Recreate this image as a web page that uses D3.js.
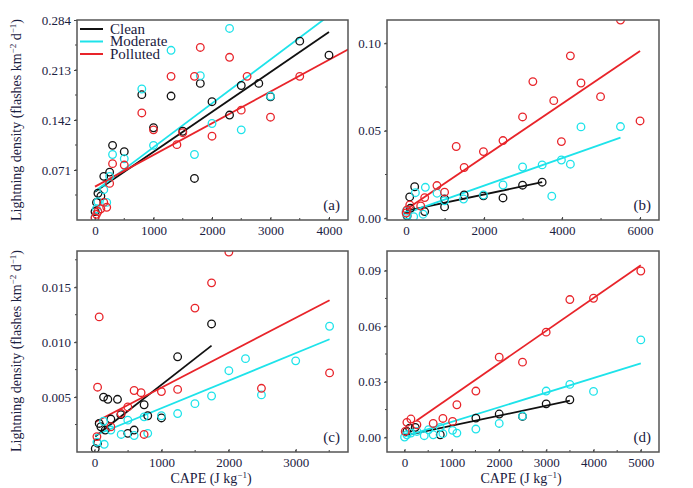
<!DOCTYPE html>
<html>
<head>
<meta charset="utf-8">
<script src="https://cdn.jsdelivr.net/npm/d3@7"></script>
<style>
body { margin: 0; background: #fff; }
text { font-family: "Liberation Serif", "Times New Roman", serif; fill: #1a2040; }
</style>
</head>
<body>
<svg id="chart" width="693" height="488"></svg>
<script>
// CAPE (J kg-1), lightning density (flashes km-2 d-1)
var cleanA = [[0,0.012],[25,0.025],[50,0.038],[100,0.034],[150,0.062],[250,0.068],[300,0.106],[500,0.097],[800,0.178],[1000,0.131],[1300,0.176],[1500,0.126],[1700,0.059],[1800,0.194],[2000,0.168],[2300,0.149],[2500,0.191],[2800,0.194],[3000,0.175],[3500,0.254],[4000,0.234]];
var moderateA = [[0,0.004],[25,0.016],[50,0.026],[150,0.043],[200,0.025],[250,0.062],[300,0.093],[500,0.087],[800,0.186],[1000,0.106],[1300,0.241],[1700,0.093],[1800,0.205],[2000,0.137],[2300,0.272],[2500,0.128],[3000,0.176]];
var pollutedA = [[0,0.003],[25,0.008],[50,0.012],[100,0.016],[150,0.025],[200,0.018],[250,0.052],[300,0.080],[500,0.078],[800,0.152],[1000,0.128],[1300,0.204],[1400,0.107],[1500,0.124],[1700,0.204],[1800,0.245],[2000,0.119],[2300,0.231],[2500,0.156],[2600,0.204],[3000,0.146],[3500,0.204]];

var cleanB = [[25,0.0013],[92,0.0122],[110,0.0057],[220,0.018],[476,0.0038],[987,0.0065],[987,0.011],[1489,0.0133],[1983,0.0128],[2485,0.0116],[2987,0.0189],[3489,0.0206]];
var moderateB = [[0,0.004],[25,0.0019],[194,0.0009],[238,0.0146],[435,0.0023],[494,0.0177],[793,0.0143],[987,0.010],[1473,0.011],[1985,0.0133],[2485,0.019],[2987,0.0293],[3489,0.0305],[3736,0.0126],[3983,0.0333],[4213,0.0309],[4485,0.0522],[5498,0.0524]];
var pollutedB = [[0,0.003],[25,0.0048],[94,0.0076],[374,0.007],[477,0.0118],[791,0.0187],[987,0.0149],[1285,0.041],[1489,0.029],[1983,0.0381],[2485,0.0444],[2987,0.0579],[3251,0.0781],[3787,0.0672],[3983,0.0438],[4213,0.0928],[4485,0.0773],[4987,0.0695],[5498,0.1133],[6000,0.0556]];

var cleanC = [[10,0.0003],[45,0.0008],[69,0.0026],[94,0.0023],[134,0.005],[159,0.002],[198,0.0048],[243,0.003],[342,0.0048],[392,0.0034],[496,0.0017],[590,0.002],[739,0.0043],[793,0.0033],[997,0.0031],[1239,0.00867],[1745,0.01166]];
var moderateC = [[35,0.0009],[134,0.0028],[144,0.0007],[243,0.002],[397,0.0016],[496,0.0029],[590,0.0015],[739,0.0032],[793,0.0017],[997,0.0033],[1239,0.0035],[1497,0.0044],[1745,0.0051],[2003,0.0074],[2251,0.0085],[2489,0.0052],[3000,0.0083],[3505,0.01145]];
var pollutedC = [[35,0.0014],[45,0.0059],[69,0.0123],[243,0.0023],[397,0.0035],[496,0.0041],[590,0.0056],[694,0.0054],[739,0.0016],[997,0.0055],[1239,0.0057],[1497,0.0131],[1745,0.0154],[2003,0.0182],[2489,0.0058],[3505,0.0072]];

var cleanD = [[49,0.0032],[106,0.005],[226,0.0054],[755,0.0014],[1509,0.0104],[2003,0.0126],[2496,0.0113],[2997,0.0181],[3498,0.0203]];
var moderateD = [[0,0.0002],[49,0.0014],[134,0.0023],[261,0.0032],[416,0.0009],[508,0.0041],[606,0.0014],[755,0.0054],[811,0.002],[1016,0.0038],[1107,0.0023],[1509,0.0045],[2003,0.0075],[2496,0.0115],[2997,0.025],[3498,0.0286],[3999,0.0248],[5000,0.0526]];
var pollutedD = [[14,0.0032],[49,0.0081],[134,0.0099],[261,0.0068],[606,0.0075],[811,0.0102],[1016,0.0086],[1107,0.0176],[1509,0.025],[2003,0.0433],[2496,0.0406],[2997,0.0568],[3498,0.0744],[3999,0.0751],[5000,0.0898]];

// fitted lines: [start CAPE, end CAPE, intercept, slope] for clean, moderate, polluted
var fitsA = [[0, 4000, 0.040, 5.67e-5], [0, 4000, 0.041, 6.23e-5], [0, 4400, 0.0474, 4.5e-5]];
var fitsB = [[0, 3489, 0.0042, 4.7e-6], [0, 5498, 0.0029, 7.85e-6], [0, 6000, 0.005, 1.51e-5]];
var fitsC = [[10, 1745, 0.00136, 4.77e-6], [10, 3505, 0.0015, 2.5e-6], [10, 3505, 0.0027, 3.17e-6]];
var fitsD = [[0, 3498, 0.0009, 5.4e-6], [0, 5000, 0.0005, 7.88e-6], [250, 5000, 0.0046, 1.766e-5]];

var capeTicksA = [0, 1000, 2000, 3000, 4000];
var capeTicksB = [0, 2000, 4000, 6000];
var capeTicksC = [0, 1000, 2000, 3000];
var capeTicksD = [0, 1000, 2000, 3000, 4000, 5000];
var densityTicksA = [0.071, 0.142, 0.213, 0.284];
var densityTicksB = [0, 0.05, 0.10];
var densityTicksC = [0.005, 0.010, 0.015];
var densityTicksD = [0, 0.03, 0.06, 0.09];

var groupNames = ["Clean", "Moderate", "Polluted"];
var colors = ["#111111", "#1ee3ea", "#e8242a"];

var svg = d3.select("#chart");

var panels = [
    {id: "a", box: [77, 20, 348, 220], xd: [-308, 4325], yd: [0, 0.284], xt: capeTicksA, xm: 500, yt: densityTicksA, fmt: ".3f",
        data: [cleanA, moderateA, pollutedA], fits: fitsA},
    {id: "b", box: [387, 20, 659, 220], xd: [-490, 6486], yd: [-0.001, 0.1133], xt: capeTicksB, xm: 1000, yt: densityTicksB, fmt: ".2f",
        data: [cleanB, moderateB, pollutedB], fits: fitsB},
    {id: "c", box: [77, 251, 348, 452], xd: [-262, 3780], yd: [0, 0.0183], xt: capeTicksC, xm: 500, yt: densityTicksC, fmt: ".3f",
        data: [cleanC, moderateC, pollutedC], fits: fitsC},
    {id: "d", box: [387, 251, 659, 452], xd: [-372, 5385], yd: [-0.0079, 0.1006], xt: capeTicksD, xm: 500, yt: densityTicksD, fmt: ".2f",
        data: [cleanD, moderateD, pollutedD], fits: fitsD}
];

panels.forEach(drawPanel);

function drawPanel(p) {
    var x = d3.scaleLinear().domain(p.xd).range([p.box[0], p.box[2]]);
    var y = d3.scaleLinear().domain(p.yd).range([p.box[3], p.box[1]]);
    var g = svg.append("g");

    g.append("clipPath").attr("id", "clip-" + p.id)
        .append("rect")
        .attr("x", p.box[0]).attr("y", p.box[1])
        .attr("width", p.box[2] - p.box[0]).attr("height", p.box[3] - p.box[1]);

    // minor ticks
    var yStep = p.yt[1] - p.yt[0];
    var yMinor = d3.range(p.yt[0] - yStep / 2, p.yd[1], yStep / 2)
        .filter(function(v) {return v >= p.yd[0] && v <= p.yd[1];});
    g.selectAll(".ymin").data(yMinor).enter().append("line")
        .attr("x1", p.box[0] - 2).attr("x2", p.box[0])
        .attr("y1", function(v) {return y(v);}).attr("y2", function(v) {return y(v);})
        .attr("stroke", "#444").attr("stroke-width", 1);
    var xMinor = d3.range(0, p.xd[1], p.xm);
    g.selectAll(".xmin").data(xMinor).enter().append("line")
        .attr("x1", function(v) {return x(v);}).attr("x2", function(v) {return x(v);})
        .attr("y1", p.box[3] - 2).attr("y2", p.box[3])
        .attr("stroke", "#444").attr("stroke-width", 1);

    var yAxis = g.append("g")
        .attr("transform", "translate(" + p.box[0] + ",0)")
        .call(d3.axisLeft(y).tickValues(p.yt).tickFormat(d3.format(p.fmt)).tickSize(3).tickPadding(3));
    var xAxis = g.append("g")
        .attr("transform", "translate(0," + p.box[3] + ")")
        .call(d3.axisBottom(x).tickValues(p.xt).tickFormat(d3.format("d")).tickSize(-3).tickPadding(6));
    [xAxis, yAxis].forEach(function(ax) {
        ax.attr("font-family", null).attr("font-size", null);
        ax.select(".domain").remove();
        ax.selectAll("line").attr("stroke", "#444");
        ax.selectAll("text").attr("fill", "#1a2040").style("font-size", "13px");
    });

    var plot = g.append("g").attr("clip-path", "url(#clip-" + p.id + ")");

    p.fits.forEach(function(f, i) {
        plot.append("line")
            .attr("x1", x(f[0])).attr("y1", y(f[2] + f[3] * f[0]))
            .attr("x2", x(f[1])).attr("y2", y(f[2] + f[3] * f[1]))
            .attr("stroke", colors[i]).attr("stroke-width", 1.8);
    });

    p.data.forEach(function(series, i) {
        plot.selectAll(".pt" + i).data(series).enter().append("circle")
            .attr("cx", function(d) {return x(d[0]);})
            .attr("cy", function(d) {return y(d[1]);})
            .attr("r", 3.8)
            .attr("fill", "none")
            .attr("stroke", colors[i])
            .attr("stroke-width", 1.3);
    });

    g.append("rect")
        .attr("x", p.box[0]).attr("y", p.box[1])
        .attr("width", p.box[2] - p.box[0]).attr("height", p.box[3] - p.box[1])
        .attr("fill", "none").attr("stroke", "#555").attr("stroke-width", 1.5);

    g.append("text")
        .attr("x", p.box[2] - 8).attr("y", p.box[3] - 10)
        .attr("text-anchor", "end")
        .style("font-size", "15px")
        .text("(" + p.id + ")");
}

// legend in panel (a)
var legend = svg.append("g");
groupNames.forEach(function(name, i) {
    var ly = 29 + i * 12.5;
    legend.append("line")
        .attr("x1", 80).attr("x2", 103).attr("y1", ly).attr("y2", ly)
        .attr("stroke", colors[i]).attr("stroke-width", 2);
    legend.append("text")
        .attr("x", 110).attr("y", ly + 4.5)
        .style("font-size", "15px")
        .text(name);
});

// axis titles
function yTitle(cy) {
    var t = svg.append("text")
        .attr("transform", "translate(21," + cy + ") rotate(-90)")
        .attr("text-anchor", "middle")
        .style("font-size", "14px");
    t.append("tspan").text("Lightning density (flashes km");
    t.append("tspan").attr("dy", -5).style("font-size", "9px").text("\u22122");
    t.append("tspan").attr("dy", 5).text(" d");
    t.append("tspan").attr("dy", -5).style("font-size", "9px").text("\u22121");
    t.append("tspan").attr("dy", 5).text(")");
}
yTitle(120);
yTitle(351);

function xTitle(cx) {
    var t = svg.append("text")
        .attr("x", cx).attr("y", 483)
        .attr("text-anchor", "middle")
        .style("font-size", "14px");
    t.append("tspan").text("CAPE (J kg");
    t.append("tspan").attr("dy", -5).style("font-size", "9px").text("\u22121");
    t.append("tspan").attr("dy", 5).text(")");
}
xTitle(211);
xTitle(521);
</script>
</body>
</html>
